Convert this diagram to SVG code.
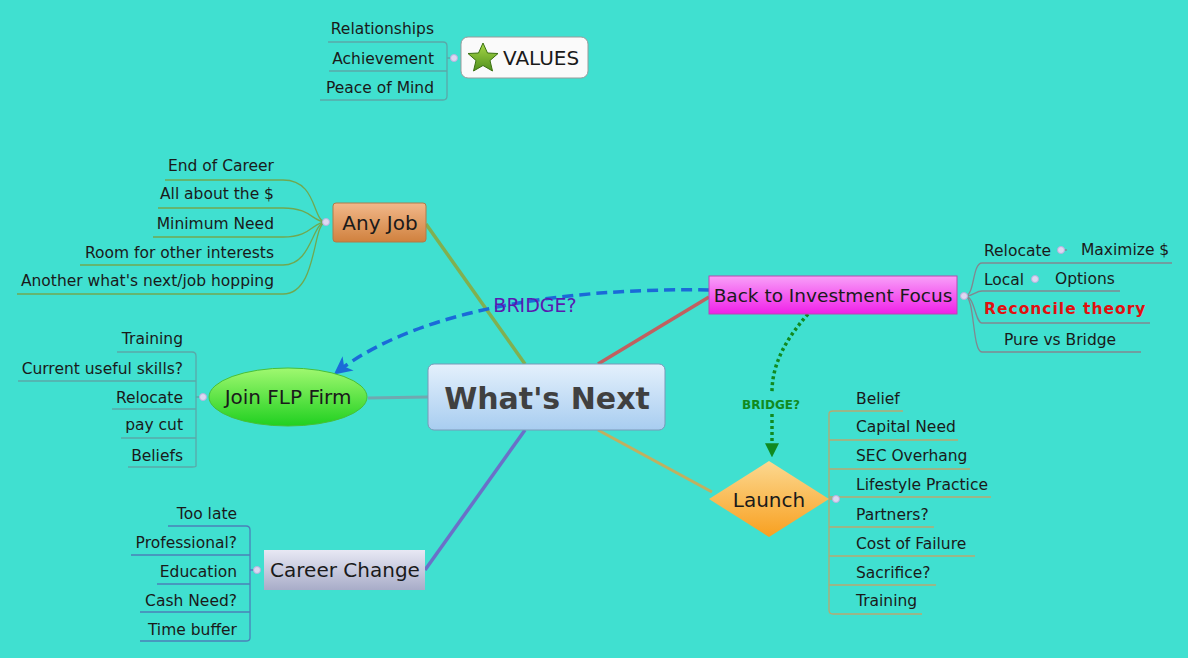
<svg xmlns="http://www.w3.org/2000/svg" width="1188" height="658" viewBox="0 0 1188 658">
<defs>
<style>
text{font-family:"DejaVu Sans",Verdana,sans-serif;fill:#1a1a1a}
.t{font-size:15.5px}
.r{text-anchor:end}
.ul{fill:none;stroke-width:1.3}
.c{fill:#dcd8f0;stroke:#b8b0e0;stroke-width:1}
</style>
<linearGradient id="gC" x1="0" y1="0" x2="0" y2="1"><stop offset="0" stop-color="#e4f0fc"/><stop offset="1" stop-color="#a8cdf0"/></linearGradient>
<linearGradient id="gA" x1="0" y1="0" x2="0" y2="1"><stop offset="0" stop-color="#f2b88a"/><stop offset="1" stop-color="#d0813e"/></linearGradient>
<linearGradient id="gF" x1="0" y1="0" x2="0" y2="1"><stop offset="0" stop-color="#a0f870"/><stop offset="1" stop-color="#20d020"/></linearGradient>
<linearGradient id="gK" x1="0" y1="0" x2="0" y2="1"><stop offset="0" stop-color="#e8e8f4"/><stop offset="1" stop-color="#a8acc8"/></linearGradient>
<linearGradient id="gB" x1="0" y1="0" x2="0" y2="1"><stop offset="0" stop-color="#f8a0f8"/><stop offset="1" stop-color="#f020e8"/></linearGradient>
<linearGradient id="gL" x1="0" y1="0" x2="0" y2="1"><stop offset="0" stop-color="#fcd890"/><stop offset="1" stop-color="#f8a020"/></linearGradient>
<linearGradient id="gS" x1="0" y1="0" x2="0" y2="1"><stop offset="0" stop-color="#a8d848"/><stop offset="1" stop-color="#50901c"/></linearGradient>
<marker id="aB" markerWidth="18" markerHeight="18" refX="14" refY="9" orient="auto" markerUnits="userSpaceOnUse" viewBox="0 0 18 18"><path d="M0,0 L18,9 L0,18 L5,9 Z" fill="#1a6ad8"/></marker>
<marker id="aG" markerWidth="14" markerHeight="14" refX="10" refY="6" orient="auto" markerUnits="userSpaceOnUse" viewBox="0 0 12 12"><path d="M0,0 L12,6 L0,12 Z" fill="#108a20"/></marker>
</defs>
<rect width="1188" height="658" fill="#40e0d0"/>

<g id="connectors">
<path d="M525,364 L426,224" stroke="#80b050" stroke-width="3.5" fill="none"/>
<path d="M428,397 L368,398" stroke="#70a8b0" stroke-width="3" fill="none"/>
<path d="M525,430 L425,570" stroke="#6a70c8" stroke-width="3.5" fill="none"/>
<path d="M598,364 L709,297" stroke="#c06060" stroke-width="3.5" fill="none"/>
<path d="M598,430 L712,492" stroke="#c0b060" stroke-width="3" fill="none"/>
<g stroke="#70a850" class="ul">
<path d="M326,222 C312,222 318,180 283,180 L165,180"/>
<path d="M326,222 C312,222 312,208 283,208 L158,208"/>
<path d="M326,222 C312,222 312,237 283,237 L153,237"/>
<path d="M326,222 C312,222 312,265 283,265 L80,265"/>
<path d="M326,222 C312,222 318,294 283,294 L17,294"/>
</g>
<g stroke="#5aa8a8" class="ul">
<path d="M203,397 L196,397 M196,356 L196,466 M196,356 Q196,352 192,352 L117,352 M196,381 L18,381 M196,409 L112,409 M196,438 L121,438 M196,466 Q196,467 192,467 L128,467"/>
</g>
<g stroke="#4a80b8" class="ul">
<path d="M257,570 L250,570 M250,530 L250,638 M250,530 Q250,526 246,526 L168,526 M250,555 L131,555 M250,584 L157,584 M250,612 L140,612 M250,638 Q250,641 246,641 L140,641"/>
</g>
<g stroke="#5aa8a8" class="ul">
<path d="M454,58 L447,58 M447,46 L447,96 M447,46 Q447,42 443,42 L328,42 M447,71 L329,71 M447,96 Q447,100 443,100 L320,100"/>
</g>
<g stroke="#808890" class="ul">
<path d="M965,296 C975,296 972,263 982,263 L1172,263"/>
<path d="M965,296 C975,296 975,291 982,291 L1120,291"/>
<path d="M965,296 C975,296 975,323 982,323 L1150,323"/>
<path d="M965,296 C975,296 972,352 982,352 L1141,352"/>
<path d="M1057,250 L1067,250"/>
</g>
<g stroke="#b8a870" class="ul">
<path d="M836,499 L829,499 M829,414 L829,610 M829,414 Q829,411 833,411 L903,411 M829,440 L958,440 M829,469 L970,469 M829,497 L991,497 M829,527 L934,527 M829,556 L975,556 M829,585 L936,585 M829,610 Q829,614 833,614 L922,614"/>
</g>
<path d="M709,290 C600,288 430,300 337,372" stroke="#1a6ad8" stroke-width="3.5" stroke-dasharray="11,6" fill="none" marker-end="url(#aB)"/>
<text x="535" y="312" text-anchor="middle" style="font-size:19px;fill:#5a1ab0">BRIDGE?</text>
<path d="M808,314 C785,340 772,365 772,392" stroke="#108a20" stroke-width="3.5" stroke-dasharray="3,3" fill="none"/>
<path d="M772,414 L772,455" stroke="#108a20" stroke-width="3.5" stroke-dasharray="3,3" fill="none" marker-end="url(#aG)"/>
<text x="771" y="409" text-anchor="middle" style="font-size:12px;font-weight:bold;fill:#108a20">BRIDGE?</text>
</g>

<g id="center"><rect x="428" y="364" width="237" height="66" rx="6" fill="url(#gC)" stroke="#7a98b8"/><text x="547" y="409" text-anchor="middle" style="font-size:30px;font-weight:bold;fill:#404040">What's Next</text></g>

<g id="anyjob"><rect x="333" y="203" width="93" height="39" rx="3" fill="url(#gA)" stroke="#b07a48"/><text x="380" y="230" text-anchor="middle" style="font-size:20px">Any Job</text><circle class="c" cx="326" cy="222" r="3.5"/>
<text class="t r" x="274" y="171">End of Career</text><text class="t r" x="274" y="199">All about the $</text><text class="t r" x="274" y="229">Minimum Need</text><text class="t r" x="274" y="258">Room for other interests</text><text class="t r" x="274" y="286">Another what's next/job hopping</text></g>

<g id="flp"><ellipse cx="288" cy="397" rx="79" ry="29" fill="url(#gF)" stroke="#48c038"/><text x="288" y="404" text-anchor="middle" style="font-size:20px">Join FLP Firm</text><circle class="c" cx="203" cy="397" r="3.5"/>
<text class="t r" x="183" y="344">Training</text><text class="t r" x="183" y="374">Current useful skills?</text><text class="t r" x="183" y="403">Relocate</text><text class="t r" x="183" y="430">pay cut</text><text class="t r" x="183" y="461">Beliefs</text></g>

<g id="career"><rect x="264" y="550" width="161" height="40" fill="url(#gK)"/><text x="345" y="577" text-anchor="middle" style="font-size:20px">Career Change</text><circle class="c" cx="257" cy="570" r="3.5"/>
<text class="t r" x="237" y="519">Too late</text><text class="t r" x="237" y="548">Professional?</text><text class="t r" x="237" y="577">Education</text><text class="t r" x="237" y="606">Cash Need?</text><text class="t r" x="237" y="635">Time buffer</text></g>

<g id="values"><rect x="461" y="37" width="127" height="41" rx="7" fill="#fafafa" stroke="#9a9a9a"/><path d="M483,43 L487.5,53 L498,53.5 L490,60.5 L492.5,71 L483,65.5 L473.5,71 L476,60.5 L468,53.5 L478.5,53 Z" fill="url(#gS)" stroke="#3a7010"/><text x="503" y="65" style="font-size:20px">VALUES</text><circle class="c" cx="454" cy="58" r="3.5"/>
<text class="t r" x="434" y="34">Relationships</text><text class="t r" x="434" y="64">Achievement</text><text class="t r" x="434" y="93">Peace of Mind</text></g>

<g id="invest"><rect x="709" y="276" width="248" height="38" fill="url(#gB)" stroke="#b848b0"/><text x="833" y="302" text-anchor="middle" style="font-size:18.5px">Back to Investment Focus</text><circle class="c" cx="964" cy="296" r="3.5"/>
<text class="t" x="984" y="256">Relocate</text><circle class="c" cx="1061" cy="250" r="3.5"/><text class="t" x="1081" y="255">Maximize $</text>
<text class="t" x="984" y="285">Local</text><circle class="c" cx="1035" cy="279" r="3.5"/><text class="t" x="1055" y="284">Options</text>
<text x="984" y="314" style="font-size:15.5px;font-weight:bold;fill:#e01010;letter-spacing:1px">Reconcile theory</text>
<text class="t" x="1004" y="345">Pure vs Bridge</text></g>

<g id="launch"><path d="M769,461 L829,499 L769,537 L709,499 Z" fill="url(#gL)"/><text x="769" y="507" text-anchor="middle" style="font-size:20px">Launch</text><circle class="c" cx="836" cy="499" r="3.5"/>
<text class="t" x="856" y="404">Belief</text><text class="t" x="856" y="432">Capital Need</text><text class="t" x="856" y="461">SEC Overhang</text><text class="t" x="856" y="490">Lifestyle Practice</text><text class="t" x="856" y="520">Partners?</text><text class="t" x="856" y="549">Cost of Failure</text><text class="t" x="856" y="578">Sacrifice?</text><text class="t" x="856" y="606">Training</text></g>
</svg>
